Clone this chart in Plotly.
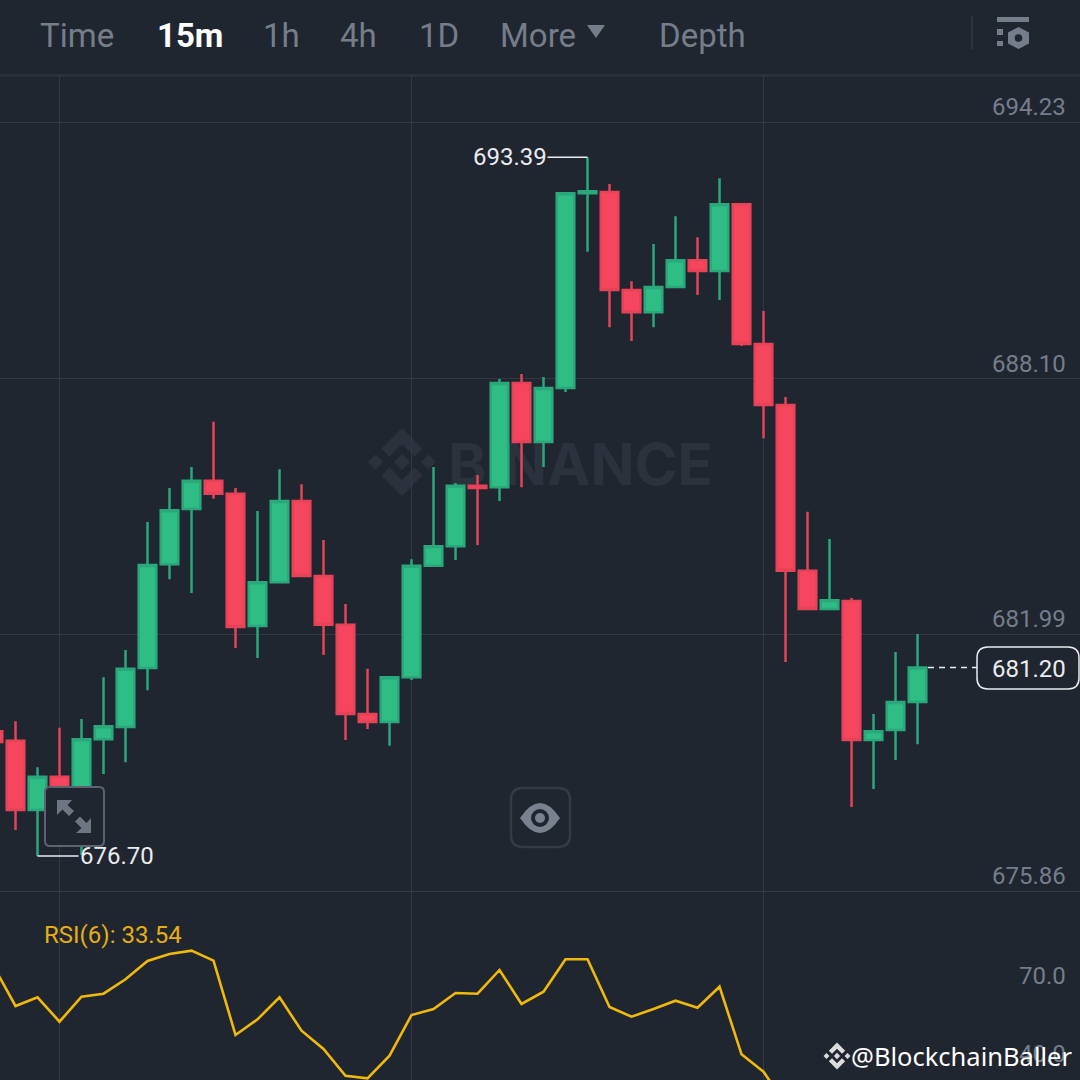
import plotly.graph_objects as go

### Candle data (oldest first)
candle_idx = list(range(-1, 42))
opens = [679.68, 679.45, 677.80, 678.59, 678.13, 679.49, 679.78, 681.19, 683.67, 684.99, 685.66, 685.35,
         682.19, 683.24, 685.18, 683.39, 682.22, 680.09, 679.90, 680.97, 683.63, 684.10, 685.54, 685.51,
         688.00, 686.59, 687.88, 692.53, 692.56, 690.22, 689.69, 690.29, 690.93, 690.67, 692.27, 688.93,
         687.47, 683.51, 682.60, 682.79, 679.47, 679.71, 680.38]
highs = [679.75, 679.92, 678.82, 679.76, 679.97, 680.97, 681.62, 684.68, 685.49, 685.99, 687.07, 685.49,
         684.94, 685.94, 685.58, 684.25, 682.72, 681.17, 680.97, 683.79, 685.99, 685.61, 685.80, 688.09,
         688.21, 688.14, 692.53, 693.39, 692.75, 690.43, 691.32, 691.98, 691.48, 692.89, 692.27, 689.72,
         687.66, 684.92, 684.27, 682.86, 680.09, 681.57, 682.00]
lows = [679.38, 677.32, 676.70, 677.96, 676.72, 678.66, 678.94, 680.66, 683.31, 682.98, 685.23, 681.67,
        681.43, 683.24, 683.39, 681.50, 679.47, 679.73, 679.33, 680.90, 683.63, 683.77, 684.13, 685.18,
        685.51, 685.99, 687.78, 691.13, 689.33, 689.00, 689.33, 690.29, 690.10, 689.98, 688.88, 686.68,
        681.33, 682.60, 682.60, 677.87, 678.30, 678.99, 679.37]
closes = [679.42, 677.80, 678.59, 678.13, 679.49, 679.80, 681.17, 683.65, 684.96, 685.66, 685.35, 682.17,
          683.24, 685.18, 683.39, 682.22, 680.09, 679.90, 680.97, 683.63, 684.10, 685.54, 685.49, 688.00,
          686.59, 687.88, 692.53, 692.58, 690.22, 689.69, 690.29, 690.93, 690.67, 692.27, 688.93, 687.47,
          683.51, 682.60, 682.81, 679.47, 679.68, 680.38, 681.20]
rsi = [79.6, 64.23, 67.56, 58.2, 67.8, 68.97, 74.49, 81.54, 84.23, 85.51, 81.67, 53.08,
       59.1, 67.56, 54.73, 47.69, 37.42, 36.42, 45.13, 60.77, 63.08, 69.23, 68.97, 78.08,
       65.0, 69.73, 82.19, 82.19, 63.85, 60.12, 63.08, 66.27, 63.58, 71.65, 45.65, 38.96,
       26.5, 24.0, 25.0, 16.0, 19.0, 25.0, 33.54]

price_ticks = [694.23, 688.10, 681.99, 675.86]
rsi_ticks = [70.0, 40.0]
time_grid = [2, 18, 34]
nav_labels = ['Time', '15m', '1h', '4h', '1D', 'More', 'Depth']
nav_left = [38, 155, 261, 338, 417, 498, 657]

BG = '#1f2630'
GRID = '#333944'
MUTED = '#767d8a'
GREEN = '#2ebd85'
RED = '#f6465d'
WHITE = '#eaecef'
GOLD = '#f0b90b'
FONT = 'Roboto'


# everything outside the data is placed in screen pixels
def xp(x):
    return x / 1080


def yp(y):
    return 1 - y / 1080


def poly(points, fill, layer='above'):
    path = 'M ' + ' L '.join(f'{xp(x):.5f},{yp(y):.5f}' for x, y in points) + ' Z'
    return dict(type='path', path=path, xref='paper', yref='paper', fillcolor=fill,
                line=dict(width=0), layer=layer)


def rounded(x0, y0, x1, y1, r, line, fill='rgba(0,0,0,0)', width=2):
    p = lambda x, y: f'{xp(x):.5f},{yp(y):.5f}'
    path = (f'M {p(x0 + r, y0)} L {p(x1 - r, y0)} Q {p(x1, y0)} {p(x1, y0 + r)} '
            f'L {p(x1, y1 - r)} Q {p(x1, y1)} {p(x1 - r, y1)} '
            f'L {p(x0 + r, y1)} Q {p(x0, y1)} {p(x0, y1 - r)} '
            f'L {p(x0, y0 + r)} Q {p(x0, y0)} {p(x0 + r, y0)} Z')
    return dict(type='path', path=path, xref='paper', yref='paper', fillcolor=fill,
                line=dict(color=line, width=width), layer='above')


def circle(cx, cy, r, fill):
    return dict(type='circle', xref='paper', yref='paper', x0=xp(cx - r), x1=xp(cx + r),
                y0=yp(cy + r), y1=yp(cy - r), fillcolor=fill, line=dict(width=0), layer='above')


def rect(x0, y0, x1, y1, fill, layer='above'):
    return dict(type='rect', xref='paper', yref='paper', x0=xp(x0), x1=xp(x1), y0=yp(y1), y1=yp(y0),
                fillcolor=fill, line=dict(width=0), layer=layer)


def logo(cx, cy, size, fill, layer):
    s = size / 34
    parts = [
        [(0, -34), (20.5, -13.5), (12.5, -5.5), (0, -18), (-12.5, -5.5), (-20.5, -13.5)],
        [(0, 34), (20.5, 13.5), (12.5, 5.5), (0, 18), (-12.5, 5.5), (-20.5, 13.5)],
        [(-34, 0), (-26.5, -7.5), (-19, 0), (-26.5, 7.5)],
        [(34, 0), (26.5, -7.5), (19, 0), (26.5, 7.5)],
        [(0, -8), (8, 0), (0, 8), (-8, 0)],
    ]
    return [poly([(cx + a * s, cy + b * s) for a, b in part], fill, layer) for part in parts]


fig = go.Figure()
fig.add_trace(go.Candlestick(
    x=candle_idx, open=opens, high=highs, low=lows, close=closes,
    whiskerwidth=0,
    increasing=dict(fillcolor=GREEN, line=dict(color='#2aa87b', width=2.5)),
    decreasing=dict(fillcolor=RED, line=dict(color='#e64359', width=2.5)),
    yaxis='y', showlegend=False,
))
fig.add_trace(go.Scatter(
    x=candle_idx, y=rsi, mode='lines', yaxis='y2',
    line=dict(color=GOLD, width=2.6), showlegend=False,
))

shapes = []
# header
shapes.append(rect(0, 74, 1080, 77, '#2a303b'))
shapes.append(rect(971, 16, 973, 49, '#2e343f'))
shapes.append(poly([(587, 25), (605, 25), (596, 38)], MUTED))
shapes.append(rect(997, 17, 1029, 22, MUTED))
shapes.append(rect(997, 29, 1003, 35, MUTED))
shapes.append(rect(997, 41, 1003, 46, MUTED))
shapes.append(poly([(1018.5, 27), (1029, 32.5), (1029, 43.5), (1018.5, 49), (1008, 43.5), (1008, 32.5)], MUTED))
shapes.append(circle(1018.5, 38, 3.8, BG))

# watermark sits under the candles
shapes += logo(402, 462, 34, '#2c323d', 'below')
shapes.append(dict(type='rect', xref='paper', yref='paper', x0=xp(450), x1=xp(711), y0=yp(490), y1=yp(434),
                   line=dict(width=0), fillcolor='rgba(0,0,0,0)', layer='below',
                   label=dict(text='<b>BINANCE</b>', textposition='middle center',
                              font=dict(family='Inter', size=58, color='#2c323d'))))

# expand button
shapes.append(rounded(45, 787, 104, 846, 5, '#5c6370', BG))
shapes.append(poly([(57, 800), (72, 800), (67.5, 805), (74, 811), (69, 816), (62.5, 809.5), (57, 815)], '#6f7683'))
shapes.append(poly([(91, 833), (76, 833), (81.5, 828), (75, 821.5), (80, 816.5), (86.5, 823), (91, 818)], '#6f7683'))

# eye button
shapes.append(rounded(511, 788, 570, 847, 12, '#343a46', 'rgba(0,0,0,0)', 2.5))
eye = ('M {l} Q {t} {r} Q {b} {l} Z').format(
    l=f'{xp(520):.5f},{yp(818):.5f}', t=f'{xp(540):.5f},{yp(788):.5f}',
    r=f'{xp(560):.5f},{yp(818):.5f}', b=f'{xp(540):.5f},{yp(848):.5f}')
shapes.append(dict(type='path', path=eye, xref='paper', yref='paper', fillcolor='#7a818e',
                   line=dict(width=0), layer='above'))
shapes.append(circle(540, 818, 9, BG))
shapes.append(circle(540, 818, 5, '#7a818e'))

# last price marker
shapes.append(dict(type='line', xref='paper', yref='y', x0=xp(928), x1=xp(977), y0=closes[-1], y1=closes[-1],
                   line=dict(color=WHITE, width=1.5, dash='6px,5px'), layer='above'))
shapes.append(rounded(977, 647, 1079, 689, 11, WHITE, BG, 1.5))

# credit logo
shapes += logo(837, 1056, 13.5, '#dcdcdc', 'above')

ann = []
for label, left in zip(nav_labels, nav_left):
    on = label == '15m'
    ann.append(dict(text=f'<b>{label}</b>' if on else label, x=xp(left), y=yp(36), xref='paper', yref='paper',
                    xanchor='left', yanchor='middle', showarrow=False,
                    font=dict(family=FONT, size=33, color='#ffffff' if on else MUTED)))
for v in price_ticks:
    ann.append(dict(text=f'{v:.2f}', x=xp(1068), y=v, xref='paper', yref='y', xanchor='right', yanchor='bottom',
                    yshift=-1, showarrow=False, font=dict(family=FONT, size=24, color=MUTED)))
for v in rsi_ticks:
    ann.append(dict(text=f'{v:.1f}', x=xp(1068), y=v, xref='paper', yref='y2', xanchor='right', yanchor='bottom',
                    yshift=-1, showarrow=False, font=dict(family=FONT, size=24, color=MUTED)))

# high and low labels with their leader lines
top = highs.index(max(highs))
bottom = lows.index(min(lows))
ann.append(dict(text=f'{highs[top]:.2f}', x=candle_idx[top], y=highs[top], xref='x', yref='y', ax=-40, ay=0,
                xanchor='right', yanchor='middle', showarrow=True, arrowhead=0, arrowwidth=1.5, arrowcolor=WHITE,
                standoff=0, font=dict(family=FONT, size=24, color=WHITE), borderpad=0))
ann.append(dict(text=f'{lows[bottom]:.2f}', x=candle_idx[bottom], y=lows[bottom], xref='x', yref='y', ax=41, ay=0,
                xanchor='left', yanchor='middle', showarrow=True, arrowhead=0, arrowwidth=1.5, arrowcolor=WHITE,
                standoff=0, font=dict(family=FONT, size=24, color=WHITE), borderpad=0))
ann.append(dict(text=f'{closes[-1]:.2f}', x=xp(1068), y=yp(669), xref='paper', yref='paper', xanchor='right',
                yanchor='middle', showarrow=False, font=dict(family=FONT, size=24, color=WHITE)))
ann.append(dict(text=f'RSI(6): {rsi[-1]:.2f}', x=xp(42), y=yp(935), xref='paper', yref='paper', xanchor='left',
                yanchor='middle', showarrow=False, font=dict(family=FONT, size=24, color='#e6ae14')))
ann.append(dict(text='@BlockchainBaller', x=xp(1074), y=yp(1056), xref='paper', yref='paper', xanchor='right',
                yanchor='middle', showarrow=False, font=dict(family='Noto Sans', size=25.5, color='#ffffff')))

fig.update_layout(
    width=1080, height=1080,
    margin=dict(l=0, r=0, t=0, b=0),
    paper_bgcolor=BG, plot_bgcolor=BG,
    boxgap=0.2, boxgroupgap=0,
    showlegend=False,
    shapes=shapes, annotations=ann,
    xaxis=dict(range=[-0.705, 48.385], tickmode='array', tickvals=time_grid, showticklabels=False,
               showgrid=True, gridcolor=GRID, gridwidth=1, zeroline=False, rangeslider=dict(visible=False),
               fixedrange=True, ticks=''),
    yaxis=dict(domain=[0.17315, 0.9296], range=[675.815, 695.33], tickmode='array', tickvals=price_ticks,
               showticklabels=False, showgrid=True, gridcolor=GRID, gridwidth=1, zeroline=False,
               fixedrange=True, ticks=''),
    yaxis2=dict(domain=[0, 0.17315], range=[35.77, 107.69], showticklabels=False, showgrid=False,
                zeroline=False, fixedrange=True, ticks=''),
)

fig.write_html("out.html", config=dict(displayModeBar=False), post_script="document.body.style.margin='0';")
